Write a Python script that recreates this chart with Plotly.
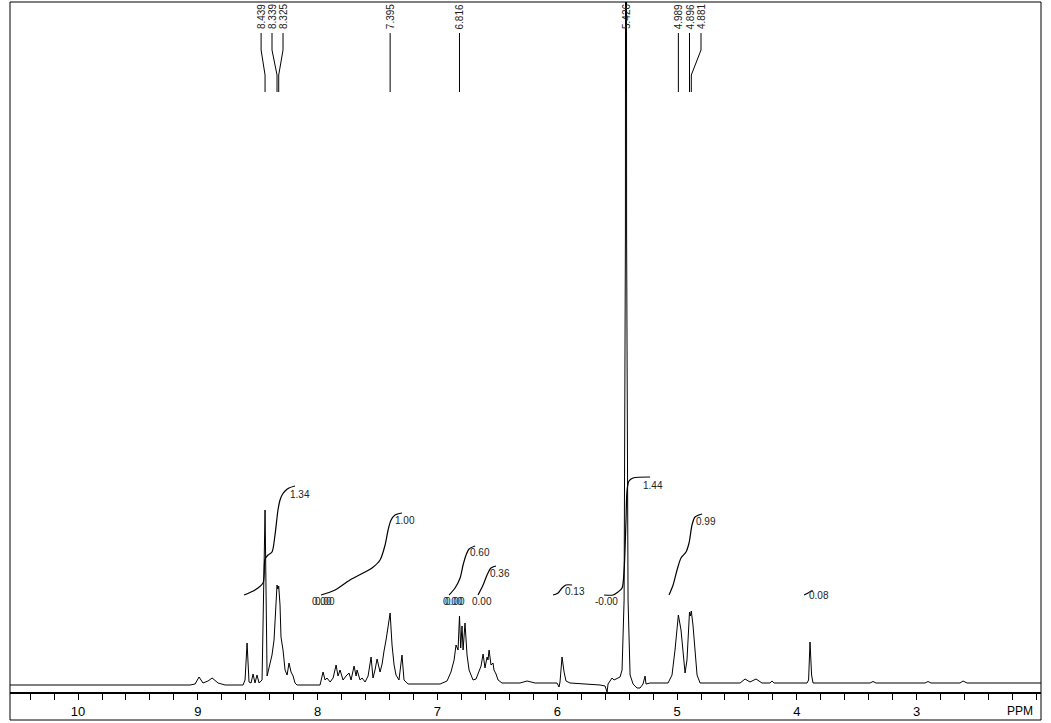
import plotly.graph_objects as go

# ---------------- spectrum (ppm, intensity) ----------------
ppm = [10.568, 9.065, 9.023, 8.990, 8.957, 8.915, 8.881, 8.831, 8.773, 8.623,
       8.606, 8.589, 8.573, 8.556, 8.539, 8.523, 8.506, 8.489, 8.464, 8.439,
       8.422, 8.414, 8.389, 8.381, 8.364, 8.345, 8.339, 8.332, 8.325, 8.314,
       8.306, 8.289, 8.272, 8.255, 8.239, 8.222, 8.205, 8.189, 8.172, 7.980,
       7.955, 7.938, 7.922, 7.896, 7.871, 7.846, 7.830, 7.813, 7.788, 7.763,
       7.738, 7.721, 7.696, 7.679, 7.671, 7.646, 7.629, 7.604, 7.579, 7.554,
       7.538, 7.521, 7.504, 7.479, 7.462, 7.446, 7.429, 7.395, 7.379, 7.362,
       7.346, 7.321, 7.296, 7.279, 7.245, 6.978, 6.920, 6.887, 6.861, 6.845,
       6.828, 6.816, 6.806, 6.795, 6.786, 6.770, 6.753, 6.736, 6.720, 6.703,
       6.678, 6.661, 6.644, 6.636, 6.619, 6.603, 6.586, 6.578, 6.569, 6.561,
       6.553, 6.536, 6.528, 6.511, 6.503, 6.494, 6.461, 6.311, 6.252, 6.185,
       6.002, 5.985, 5.977, 5.960, 5.943, 5.927, 5.893, 5.726, 5.643, 5.601,
       5.584, 5.576, 5.559, 5.543, 5.526, 5.509, 5.476, 5.459, 5.442, 5.431,
       5.426, 5.421, 5.409, 5.392, 5.367, 5.334, 5.309, 5.284, 5.267, 5.259,
       5.225, 5.075,
       5.042, 5.017, 5.000, 4.989, 4.967, 4.950, 4.933, 4.917, 4.908, 4.896,
       4.888, 4.881, 4.867, 4.850, 4.833, 4.808, 4.474, 4.432, 4.391, 4.341,
       4.291, 4.224, 4.207, 4.190, 3.915, 3.902, 3.890, 3.877, 3.865, 3.389,
       3.364, 3.339, 2.930, 2.905, 2.880, 2.638, 2.613, 2.579, 1.962]
intensity = [0, 0, 1, 8, 2, 4, 7, 2, 0, 0,
             5, 42, 3, 2, 11, 2, 10, 2, 5, 175,
             9, 13, 25, 30, 45, 98, 100, 96, 99, 80,
             48, 35, 15, 10, 22, 13, 9, 2, 0, 0,
             13, 5, 7, 3, 7, 20, 9, 15, 5, 9,
             12, 5, 19, 9, 15, 5, 7, 3, 9, 28,
             7, 15, 26, 13, 21, 34, 45, 72, 40, 20,
             10, 5, 30, 5, 1, 1, 4, 13, 25, 40,
             35, 69, 37, 59, 35, 62, 30, 15, 9, 5,
             6, 11, 17, 19, 31, 17, 28, 25, 35, 23,
             20, 22, 15, 11, 8, 5, 2, 2, 4, 2,
             2, -2, 3, 28, 13, 4, 2, 1, 0, -1,
             -7, 1, 4, 7, 5, 6, 8, 15, 85, 450,
             2000, 450, 85, 10, 1, -3, -3, 1, 9, 1,
             2, 2,
             10, 35, 60, 70, 55, 30, 12, 25, 45, 73,
             69, 74, 60, 35, 10, 2, 2, 6, 3, 6,
             2, 2, 4, 2, 2, 5, 43, 10, 2, 2,
             3.5, 2, 2, 3.5, 2, 2, 4, 2, 2]

# ---------------- peak picking labels ----------------
peak_ppm = [8.439, 8.339, 8.325, 7.395, 6.816, 5.426, 4.989, 4.896, 4.881]
peak_text = ["8.439", "8.339", "8.325", "7.395", "6.816", "5.426", "4.989", "4.896", "4.881"]
peak_label_pos = [8.472, 8.381, 8.289, 7.395, 6.816, 5.426, 4.989, 4.896, 4.800]

# ---------------- integral curves ----------------
int1_ppm = [8.614, 8.523, 8.456, 8.447, 8.439, 8.414, 8.381, 8.356, 8.331, 8.314, 8.297, 8.272, 8.239, 8.189]
int1_val = [90, 95, 102, 110, 126, 130, 133, 150, 175, 185, 190, 194, 197, 199]
int2_ppm = [7.972, 7.855, 7.730, 7.604, 7.546, 7.479, 7.437, 7.412, 7.387, 7.354, 7.296]
int2_val = [90, 95, 105, 113, 117, 125, 140, 155, 165, 170, 172]
int3_ppm = [6.903, 6.853, 6.811, 6.786, 6.761, 6.736, 6.686]
int3_val = [90, 97, 107, 120, 130, 136, 139]
int4_ppm = [6.661, 6.619, 6.586, 6.553, 6.511]
int4_val = [90, 100, 110, 117, 119]
int5_ppm = [6.035, 5.993, 5.960, 5.927, 5.876]
int5_val = [90, 92, 97, 100, 100]
int6_ppm = [5.609, 5.534, 5.493, 5.459, 5.442, 5.426, 5.417, 5.401, 5.367, 5.225]
int6_val = [90, 90, 93, 97, 115, 165, 195, 204, 207, 208]
int7_ppm = [5.067, 5.033, 5.000, 4.967, 4.925, 4.900, 4.875, 4.850, 4.791]
int7_val = [90, 100, 115, 127, 133, 142, 160, 168, 171]
int8_ppm = [3.940, 3.906, 3.881, 3.865]
int8_val = [90, 92, 94, 94]

integral_text = ["1.34", "1.00", "0.60", "0.36", "0.13", "1.44", "0.99", "0.08"]
integral_label_ppm = [8.247, 7.371, 6.745, 6.578, 5.952, 5.300, 4.858, 3.915]
integral_label_val = [191, 165, 133, 112, 94, 200, 164, 90]

zero_text = ["0.00", "0.00", "0.00", "0.00", "0.00", "-0.00"]
zero_label_ppm = [8.063, 8.040, 6.972, 6.955, 6.728, 5.701]
zero_label_val = [84, 84, 84, 84, 84, 84]

tick_vals = [3, 4, 5, 6, 7, 8, 9, 10]
tick_text = ["3", "4", "5", "6", "7", "8", "9", "10"]

FONT = "Liberation Sans, Arial, sans-serif"

fig = go.Figure()
fig.add_trace(go.Scatter(x=ppm, y=intensity, mode="lines",
                         line=dict(color="black", width=1), hoverinfo="skip"))

for xs, ys in [(int1_ppm, int1_val), (int2_ppm, int2_val), (int3_ppm, int3_val),
               (int4_ppm, int4_val), (int5_ppm, int5_val), (int6_ppm, int6_val),
               (int7_ppm, int7_val), (int8_ppm, int8_val)]:
    fig.add_trace(go.Scatter(x=xs, y=ys, mode="lines",
                             line=dict(color="black", width=1.2, shape="spline", smoothing=0.8),
                             hoverinfo="skip"))

annotations = []
for t, x, y in zip(integral_text, integral_label_ppm, integral_label_val):
    annotations.append(dict(x=x, y=y, text=t, showarrow=False, xanchor="left", yanchor="middle",
                            font=dict(family=FONT, size=10, color="#222")))
for t, x, y in zip(zero_text, zero_label_ppm, zero_label_val):
    annotations.append(dict(x=x, y=y, text=t, showarrow=False, xanchor="left", yanchor="middle",
                            font=dict(family=FONT, size=10, color="#222")))

shapes = []
# peak label leader lines (y in intensity units; 1 unit = 1 px)
Y_TOP, Y_BEND1, Y_BEND2, Y_BOT = 652, 635, 610, 593
for p, lp, t in zip(peak_ppm, peak_label_pos, peak_text):
    fig.add_trace(go.Scatter(x=[lp, lp, p, p], y=[Y_TOP, Y_BEND1, Y_BEND2, Y_BOT], mode="lines",
                             line=dict(color="black", width=1), hoverinfo="skip"))
    annotations.append(dict(x=lp, y=668, text=t, showarrow=False, textangle=-90,
                            xanchor="center", yanchor="middle",
                            font=dict(family=FONT, size=10, color="#222")))

annotations.append(dict(x=0.98, y=-0.028, xref="paper", yref="paper", text="PPM", showarrow=False,
                        xanchor="center", yanchor="middle",
                        font=dict(family=FONT, size=12, color="black")))

# page frame
shapes.append(dict(type="rect", xref="paper", yref="paper", x0=0, x1=1, y0=-0.0406, y1=1,
                   line=dict(color="black", width=1)))

fig.update_layout(
    width=1051, height=723,
    margin=dict(l=10, r=10, t=2, b=31),
    paper_bgcolor="white", plot_bgcolor="white",
    showlegend=False,
    hovermode=False,
    annotations=annotations,
    shapes=shapes,
    xaxis=dict(range=[10.568, 1.962], tickvals=tick_vals, ticktext=tick_text,
               ticks="outside", ticklen=6, tickwidth=1, tickcolor="black",
               showline=True, linewidth=2, linecolor="black", showgrid=False, zeroline=False,
               tickfont=dict(family=FONT, size=13, color="black"),
               minor=dict(tick0=0, dtick=0.2, ticks="outside", ticklen=6, tickwidth=1, tickcolor="black")),
    yaxis=dict(range=[-7, 683], visible=False, showgrid=False, zeroline=False),
)

fig.write_html("out.html", config={"displayModeBar": False},
               post_script="document.body.style.margin='0';document.body.style.overflow='hidden';")
